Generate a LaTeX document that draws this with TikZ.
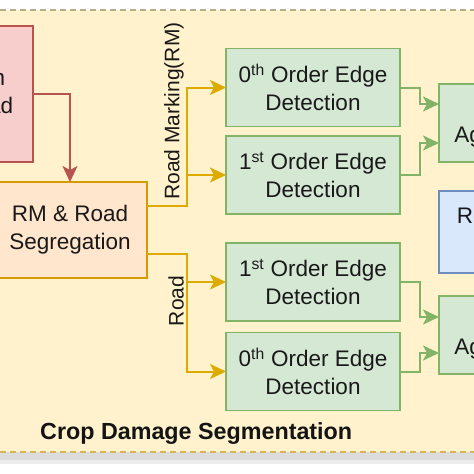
\documentclass[tikz,border=0pt]{standalone}
\usepackage{fontspec}
\setmainfont{Liberation Sans}
\usetikzlibrary{arrows.meta,calc}
\definecolor{bgfill}{HTML}{FFF2CC}
\definecolor{bgline}{HTML}{D6B656}
\definecolor{bgtop}{HTML}{B5AD88}
\definecolor{redfill}{HTML}{F8CECC}
\definecolor{redline}{HTML}{B85450}
\definecolor{orfill}{HTML}{FFE6CC}
\definecolor{orline}{HTML}{D79B00}
\definecolor{grfill}{HTML}{D5E8D4}
\definecolor{grline}{HTML}{82B366}
\definecolor{blfill}{HTML}{DAE8FC}
\definecolor{blline}{HTML}{6C8EBF}
\begin{document}
\begin{tikzpicture}[x=1pt,y=-1pt,
  txt/.style={font=\fontsize{22.5}{28}\selectfont, align=center, text=black!90},
  box/.style={txt, draw, line width=1.6pt, inner sep=0pt, outer sep=0pt},
  redbox/.style={box, fill=redfill, draw=redline},
  orbox/.style={box, fill=orfill, draw=orline},
  grbox/.style={box, fill=grfill, draw=grline, minimum width=174pt, minimum height=78pt},
  blbox/.style={box, fill=blfill, draw=blline},
  aggbox/.style={box, fill=grfill, draw=grline, minimum width=152pt, minimum height=78pt},
  redarrow/.style={draw=redline, line width=1.6pt, -{Stealth[length=16pt,width=15pt,inset=4pt]}},
  orarrow/.style={draw=orline!85!yellow, line width=2pt, -{Stealth[length=16pt,width=15pt,inset=4pt]}},
  grarrow/.style={draw=grline, line width=2pt, -{Stealth[length=16pt,width=15pt,inset=4pt]}},
  lbl/.style={font=\fontsize{21}{25}\selectfont, text=black!90, rotate=90, inner sep=0pt}
]
\useasboundingbox (0,0) rectangle (474,474);
\clip (0,0) rectangle (474,474);
% shadow and background
\fill[black!25, opacity=0.5] (-10,452) rectangle (490,460);
\fill[black!15, opacity=0.5] (-10,452) rectangle (490,464);
\fill[bgfill] (-10,10) rectangle (490,452);
\draw[bgtop, line width=1.2pt, dash pattern=on 6pt off 4pt] (-10,10) -- (490,10);
\draw[bgline, line width=1.4pt, dash pattern=on 6pt off 4pt] (-10,452) -- (490,452);

% boxes
\node[redbox, minimum width=192pt, minimum height=136pt] (inp) at (-63,94) {Crop Region\hspace*{-10pt}\\Crop and Road};
\node[orbox, minimum width=154pt, minimum height=96pt] (seg) at (70,230) {RM \& Road\\Segregation};
\node[grbox] (g1) at (313,87.5) {0\textsuperscript{th} Order Edge\\Detection};
\node[grbox] (g2) at (313,175) {1\textsuperscript{st} Order Edge\\Detection};
\node[grbox] (g3) at (313,282) {1\textsuperscript{st} Order Edge\\Detection};
\node[grbox] (g4) at (313,371.5) {0\textsuperscript{th} Order Edge\\Detection};
\node[aggbox] (a1) at (515,123) {Edge\\Aggregation};
\node[aggbox] (a2) at (515,335) {Edge\\Aggregation};
\node[blbox, minimum width=181pt, minimum height=82pt] (res) at (529.5,232) {Road Damage\\Map};

% connectors
\draw[redarrow] (inp.east) -| (seg.north);
\coordinate (jx) at (187,0);
\draw[orarrow] ([yshift=24pt]seg.east) -| (jx |- g2.west) |- (g1.west);
\draw[orarrow] (jx |- g2.west) -- (g2.west);
\draw[orarrow] ([yshift=-24pt]seg.east) -| (jx |- g3.west) |- (g4.west);
\draw[orarrow] (jx |- g3.west) -- (g3.west);
\coordinate (kx) at (420,0);
\draw[grarrow] (g1.east) -| ($(kx |- a1.west)+(0,-19)$) -- ([yshift=19pt]a1.west);
\draw[grarrow] (g2.east) -| ($(kx |- a1.west)+(0,20)$) -- ([yshift=-20pt]a1.west);
\draw[grarrow] (g3.east) -| ($(kx |- a2.west)+(0,-18)$) -- ([yshift=18pt]a2.west);
\draw[grarrow] (g4.east) -| ($(kx |- a2.west)+(0,18)$) -- ([yshift=-18pt]a2.west);

% labels
\node[lbl] (lrm) at (174,111) {Road Marking(RM)};
\node[lbl] (lrd) at (176,301) {Road};
\node[font=\bfseries\fontsize{23.3}{28}\selectfont, anchor=west, inner sep=0pt, text=black!92] (title) at (40,434) {Crop Damage Segmentation};
\end{tikzpicture}
\end{document}
